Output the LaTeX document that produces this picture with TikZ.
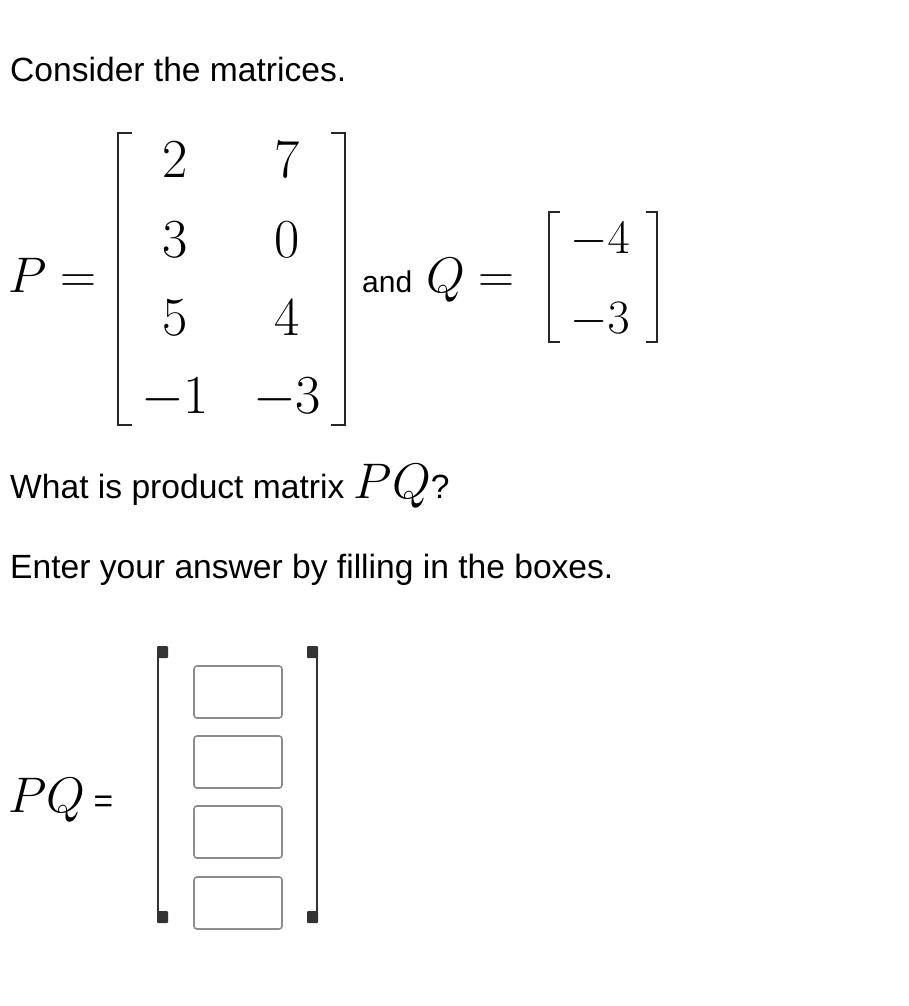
\RequirePackage{fix-cm}
\documentclass[tikz,border=0pt]{standalone}
\usepackage{fontspec}
\setmainfont{Liberation Sans}
\begin{document}
\begin{tikzpicture}[x=1pt,y=-1pt,
  txt/.style={anchor=base west,inner sep=0pt,font=\fontsize{33.6}{40}\selectfont},
  num/.style={inner sep=0pt,font=\fontsize{55}{60}\selectfont},
  qnum/.style={inner sep=0pt,font=\fontsize{48}{54}\selectfont},
  brk/.style={line width=2.6pt,draw=black!85},
  ansbox/.style={draw=black!45,line width=1.6pt,rounded corners=3pt}]
\useasboundingbox[fill=white] (0,0) rectangle (908,1006);
\node[txt] (t1) at (10,82) {Consider the matrices.};
% P
\node[anchor=base west,inner sep=0pt,font=\fontsize{50}{56}\selectfont] (pl) at (8,292) {$P=$};
\draw[brk] (132,133) -- (118,133) -- (118,425) -- (132,425);
\draw[brk] (331,133) -- (345,133) -- (345,425) -- (331,425);
\node[num] (a11) at (175,160) {$2$};
\node[num] (a12) at (287,160) {$7$};
\node[num] (a21) at (175,240) {$3$};
\node[num] (a22) at (287,240) {$0$};
\node[num] (a31) at (175,318) {$5$};
\node[num] (a32) at (287,318) {$4$};
\node[num] (a41) at (175,398) {$-1$};
\node[num] (a42) at (287,398) {$-3$};
\node[txt,font=\fontsize{30}{36}\selectfont] (and) at (362,292) {and};
\node[anchor=base west,inner sep=0pt,font=\fontsize{50}{56}\selectfont] (ql) at (426,292) {$Q=$};
\draw[brk] (560,212) -- (549,212) -- (549,342) -- (560,342);
\draw[brk] (646,212) -- (657,212) -- (657,342) -- (646,342);
\node[qnum] (b1) at (600,240) {$-4$};
\node[qnum] (b2) at (600,320) {$-3$};
% questions
\node[txt] (t2) at (10,498) {What is product matrix \fontsize{50}{56}\selectfont$PQ$\fontsize{33.6}{40}\selectfont?};
\node[txt] (t3) at (10,578) {Enter your answer by filling in the boxes.};
% answer
\node[anchor=base west,inner sep=0pt] (pq) at (8,812) {\fontsize{50}{56}\selectfont$PQ$\,\fontsize{33.6}{40}\selectfont=};
\draw[line width=2pt,draw=black!80] (168,648) -- (158,648) -- (158,921) -- (168,921);
\fill[black!80,rounded corners=1pt] (157,646) rectangle (168,658);
\fill[black!80,rounded corners=1pt] (157,911) rectangle (168,923);
\draw[line width=2pt,draw=black!80] (307,648) -- (317,648) -- (317,921) -- (307,921);
\fill[black!80,rounded corners=1pt] (307,646) rectangle (318,658);
\fill[black!80,rounded corners=1pt] (307,911) rectangle (318,923);
\draw[ansbox] (194,666) rectangle (282,718);
\draw[ansbox] (194,736) rectangle (282,788);
\draw[ansbox] (194,806) rectangle (282,858);
\draw[ansbox] (194,877) rectangle (282,929);
\end{tikzpicture}
\end{document}
